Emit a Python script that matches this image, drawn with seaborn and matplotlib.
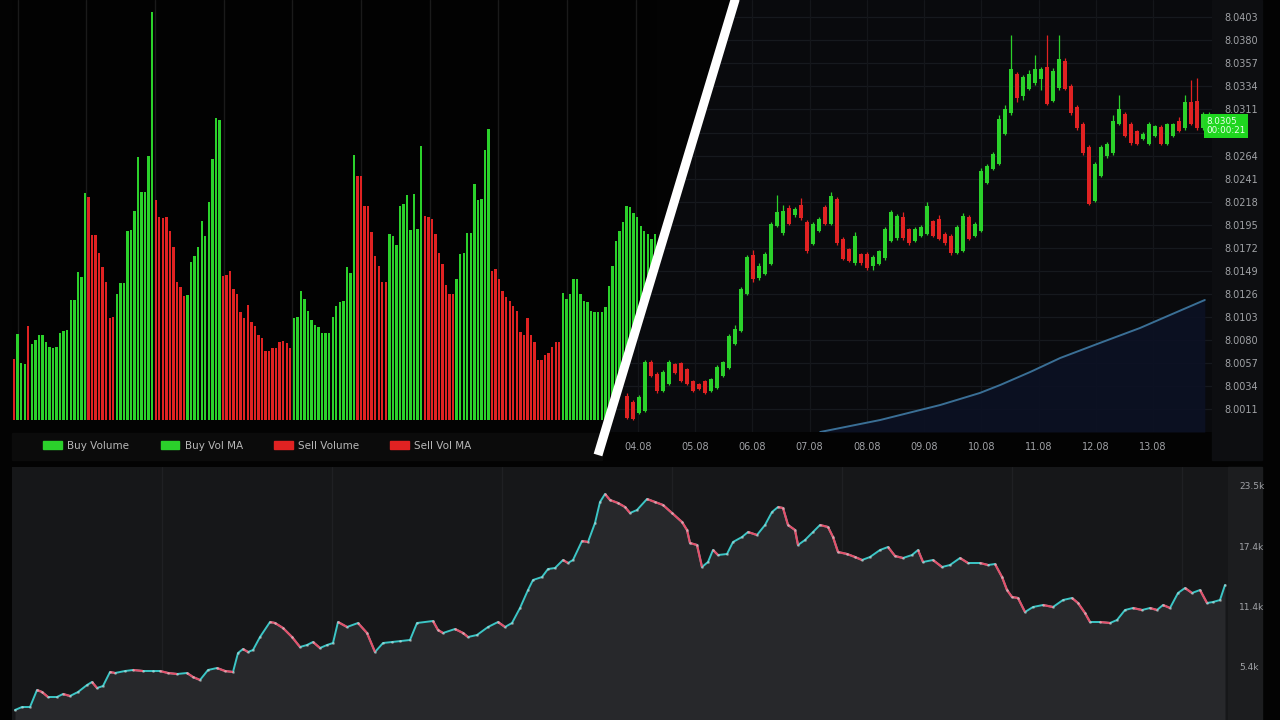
import numpy as np
import pandas as pd
import matplotlib
matplotlib.use("Agg")
import matplotlib.pyplot as plt
import seaborn as sns
from matplotlib.patches import Polygon, Rectangle, Patch
from matplotlib.lines import Line2D
from matplotlib.collections import LineCollection

# ---------------- DATA ----------------
# Volume bars (top-left): heights and direction
vol_heights = [61, 86, 57, 56, 94, 76, 80, 85, 85, 78, 73, 72, 73, 87, 89, 90, 119, 119, 147, 142, 226,
               222, 184, 184, 166, 152, 137, 102, 103,
               125, 136, 136, 188, 189, 208, 262, 227, 227, 263, 406,
               219, 202, 201, 202, 188, 172, 137, 132, 123,
               124, 157, 163, 172, 198, 183, 217, 260, 301, 299,
               143, 144, 148, 130, 125, 107, 102, 114, 98, 94, 85, 82, 69, 69, 72, 72, 78, 79, 77, 72,
               102, 103, 128, 120, 108, 100, 95, 93, 87, 87, 87, 103, 113, 117, 118, 152, 146, 264,
               243, 243, 213, 213, 187, 163, 153, 137, 137,
               185, 183, 174, 213, 215, 224, 189, 225, 190, 273,
               203, 202, 200, 185, 166, 155, 134, 125, 125,
               140, 165, 166, 186, 186, 235, 219, 220, 269, 290,
               148, 150, 140, 128, 122, 118, 113, 108, 88, 85, 102, 85, 78, 60, 60, 65, 67, 73, 78, 78,
               126, 120, 125, 140, 140, 125, 118, 117, 108, 107, 107, 107, 112, 133, 153, 178, 188, 197,
               213, 212, 206, 202, 193, 188, 185, 180, 185]
vol_dir = (["down"] + ["up"] * 3 + ["down"] + ["up"] * 16 +
           ["down"] * 8 + ["up"] * 11 + ["down"] * 9 + ["up"] * 10 +
           ["down"] * 20 + ["up"] * 18 + ["down"] * 9 + ["up"] * 10 +
           ["down"] * 9 + ["up"] * 10 + ["down"] * 20 + ["up"] * 27)
legend_labels = ["Buy Volume", "Buy Vol MA", "Sell Volume", "Sell Vol MA"]

# Candles (top-right), price in points
c_open = [23, 17, 8, 10, 57, 45, 30, 37, 55, 56,
          50, 38, 35, 38, 30, 33, 45, 53, 77, 90,
          127, 164, 143, 147, 157, 195, 188, 211, 206, 214,
          197, 177, 190, 212, 197, 220, 180, 170, 158, 165,
          165, 155, 157, 163, 180, 183, 202, 190, 180, 185,
          187, 198, 200, 185, 183, 168, 170, 202, 185, 190,
          238, 252, 257, 287, 308, 345, 325, 332, 338, 342,
          352, 320, 333, 358, 333, 312, 295, 272, 220, 245,
          265, 268, 297, 305, 295, 288, 282, 277, 285, 292,
          277, 285, 298, 293, 317, 318, 293, 295]
c_close = [3, 2, 22, 57, 45, 30, 47, 57, 48, 40,
           37, 30, 32, 28, 40, 52, 57, 83, 90, 130,
           162, 142, 153, 165, 195, 207, 208, 197, 210, 203,
           170, 195, 200, 197, 223, 178, 162, 160, 183, 158,
           153, 162, 168, 190, 207, 203, 183, 178, 190, 192,
           213, 185, 182, 178, 168, 192, 203, 182, 195, 248,
           253, 265, 300, 310, 350, 323, 342, 345, 350, 350,
           317, 348, 360, 332, 308, 293, 268, 217, 255, 272,
           275, 298, 310, 285, 278, 277, 285, 295, 293, 277,
           295, 295, 290, 317, 297, 293, 305, 305]
c_high = [27, 20, 25, 60, 60, 48, 50, 60, 57, 58,
          52, 40, 37, 40, 42, 55, 59, 86, 95, 133,
          165, 170, 157, 168, 198, 225, 215, 215, 213, 222,
          200, 198, 203, 215, 228, 223, 183, 172, 188, 167,
          168, 165, 170, 193, 210, 206, 208, 192, 193, 195,
          218, 200, 205, 188, 186, 195, 207, 205, 198, 252,
          256, 268, 305, 315, 385, 348, 345, 350, 365, 353,
          385, 352, 385, 362, 336, 315, 298, 275, 258, 275,
          278, 305, 325, 308, 298, 290, 288, 298, 295, 295,
          297, 297, 303, 325, 340, 342, 308, 308]
c_low = [1, 0, 6, 8, 43, 27, 28, 35, 46, 38,
         35, 28, 30, 26, 28, 31, 43, 51, 75, 88,
         125, 138, 140, 145, 155, 193, 185, 195, 203, 200,
         167, 175, 188, 195, 195, 175, 160, 158, 155, 155,
         150, 150, 155, 160, 178, 180, 180, 175, 178, 183,
         185, 183, 180, 175, 165, 166, 168, 180, 183, 188,
         236, 250, 255, 285, 305, 318, 320, 330, 335, 330,
         315, 318, 330, 330, 305, 290, 265, 215, 218, 243,
         262, 265, 295, 283, 275, 275, 280, 275, 283, 275,
         275, 283, 288, 290, 295, 290, 290, 292]
ind_x = [32.2, 42.2, 52.2, 58.8, 62.2, 67.2, 72.2, 78.8, 85.5, 90.5, 96.3]
ind_y = [-12, 0, 15, 27, 35, 48, 62, 77, 92, 105, 120]
time_labels = ["04.08", "05.08", "06.08", "07.08", "08.08", "09.08", "10.08", "11.08", "12.08", "13.08"]
price_ticks = [11, 34, 57, 80, 103, 126, 149, 172, 195, 218, 241, 264, 311, 334, 357, 380, 403]
price_tag_level = 294

# Bottom line chart
line_t = [3, 10, 18, 25, 30, 36, 45, 51, 58, 66,
          75, 80, 85, 91, 98, 103, 113, 121, 131, 141,
          148, 156, 165, 175, 181, 188, 196, 205, 213, 221,
          226, 231, 236, 241, 248, 258, 263, 271, 280, 288,
          295, 301, 308, 315, 321, 326, 335, 346, 355, 363,
          371, 380, 388, 398, 405, 421, 426, 431, 443, 451,
          456, 465, 476, 486, 493, 500, 508, 516, 521, 530,
          536, 543, 551, 556, 561, 570, 576, 583, 588, 593,
          598, 606, 613, 618, 625, 635, 643, 651, 660, 670,
          675, 678, 685, 690, 696, 701, 706, 715, 721, 730,
          736, 745, 753, 760, 766, 771, 776, 783, 786, 793,
          801, 808, 816, 821, 826, 835, 843, 850, 858, 868,
          876, 883, 891, 900, 906, 911, 921, 930, 938, 948,
          956, 968, 976, 983, 990, 995, 1000, 1006, 1013, 1021,
          1031, 1041, 1051, 1060, 1066, 1073, 1078, 1088, 1098, 1105,
          1113, 1121, 1130, 1138, 1145, 1151, 1158, 1166, 1173, 1180,
          1188, 1195, 1201, 1208, 1213]
line_v = [10, 13, 13, 30, 28, 23, 23, 26, 24, 28,
          35, 38, 32, 34, 48, 47, 49, 50, 49, 49,
          49, 47, 46, 47, 43, 40, 50, 52, 49, 48,
          67, 71, 68, 70, 83, 98, 97, 92, 83, 73,
          75, 78, 72, 75, 77, 98, 93, 97, 87, 68,
          77, 78, 79, 80, 97, 99, 90, 87, 91, 87,
          83, 85, 93, 98, 93, 97, 112, 130, 140, 143,
          151, 152, 160, 157, 160, 179, 178, 197, 218, 226,
          220, 217, 213, 207, 210, 221, 218, 215, 207, 198,
          190, 177, 175, 153, 158, 170, 165, 166, 178, 183,
          188, 185, 195, 208, 213, 212, 195, 190, 175, 180,
          188, 195, 193, 183, 168, 166, 163, 160, 163, 170,
          173, 164, 162, 165, 170, 158, 160, 153, 155, 162,
          157, 157, 155, 156, 143, 130, 123, 122, 108, 113,
          115, 113, 120, 122, 117, 107, 98, 98, 97, 100,
          110, 112, 110, 112, 110, 115, 112, 127, 132, 127,
          130, 117, 118, 120, 135]
bottom_ticks = [54, 114, 174, 235]

# ---------------- STYLE ----------------
sns.set_theme(style="dark", rc={"axes.facecolor": "#020202", "figure.facecolor": "#030303"})
plt.rcParams['font.family'] = ['DejaVu Sans']

GREEN = "#2bd12b"
RED = "#e02222"
CYAN = "#3cc6c6"
PINK = "#e4506a"
W, H = 1280, 720

fig = plt.figure(figsize=(12.8, 7.2), dpi=100, facecolor="#030303")


def rect(x0, y0, x1, y1):
    return [x0 / W, 1 - y1 / H, (x1 - x0) / W, (y1 - y0) / H]


def fp(x, y):
    return (x / W, 1 - y / H)


# background decorations
fig.add_artist(Rectangle(fp(12, 460), 590 / W, 27 / H, color="#0b0b0b", zorder=-1))
fig.add_artist(Rectangle(fp(1212, 460), 50 / W, 460 / H, color="#0d0e11", zorder=-1))
fig.add_artist(Rectangle(fp(1228, 720), 34 / W, 253 / H, color="#1c1d1f", zorder=-1))

left_poly = Polygon([fp(-10, -10), fp(738, -10), fp(598, 455), fp(-10, 455)], closed=True,
                    transform=fig.transFigure)
right_poly = Polygon([fp(738, -10), fp(1290, -10), fp(1290, 461), fp(596.5, 461)], closed=True,
                     transform=fig.transFigure)

# ---------------- LEFT: volume bars ----------------
ax1 = fig.add_axes(rect(12, 0, 657, 420))
n = len(vol_heights)
vdf = pd.DataFrame({"i": np.arange(n), "h": vol_heights, "d": vol_dir})
sns.barplot(data=vdf, x="i", y="h", hue="d", palette={"up": GREEN, "down": RED},
            dodge=False, width=0.68, legend=False, errorbar=None, saturation=1,
            linewidth=0, ax=ax1)
ax1.set_xlim(-0.6, n - 0.4)
ax1.set_ylim(0, 418)
ax1.set_facecolor("#020202")
ax1.set_xticks(np.arange(1, n, 19.4))
ax1.set_yticks([])
ax1.tick_params(labelbottom=False, length=0)
ax1.grid(axis="x", color="#1a1a1a", lw=1)
ax1.grid(axis="y", visible=False)
ax1.set_xlabel("")
ax1.set_ylabel("")
for s in ax1.spines.values():
    s.set_visible(False)
for p in ax1.patches:
    p.set_clip_path(left_poly)
for gl in ax1.get_xgridlines():
    gl.set_clip_path(left_poly)

fig.legend(handles=[Patch(color=GREEN), Patch(color=GREEN), Patch(color=RED), Patch(color=RED)],
           labels=legend_labels, loc="center left", bbox_to_anchor=(34 / W, 1 - 446 / H),
           ncol=4, frameon=False, fontsize=7.5, labelcolor="#b8b8b8", handlelength=1.8,
           handleheight=0.8, columnspacing=3.0, handletextpad=0.5)

# ---------------- RIGHT: candlesticks ----------------
ax2 = fig.add_axes(rect(596, 0, 1212, 432))
ax2.set_facecolor("#090a0d")
ax2.patch.set_clip_path(right_poly)
idx = np.arange(len(c_open))
o = np.array(c_open); c = np.array(c_close); hi = np.array(c_high); lo = np.array(c_low)
up = c >= o
cols = np.where(up, GREEN, RED)
for t in price_ticks + [287]:
    gl = ax2.axhline(t, color="#16191e", lw=0.9, zorder=0)
    gl.set_clip_path(right_poly)
xt = np.linspace(1.8, 87.7, 10)
for t in xt:
    gl = ax2.axvline(t, color="#14161a", lw=0.9, zorder=0)
    gl.set_clip_path(right_poly)
sns.lineplot(x=ind_x, y=ind_y, color="#3a6f96", lw=1.4, ax=ax2, zorder=2)
ax2.fill_between(ind_x, ind_y, -12, color="#0c1124", alpha=0.9, zorder=1, lw=0)
ax2.vlines(idx, lo, hi, colors=cols, lw=0.9, zorder=3)
ax2.bar(idx, np.abs(c - o) + 1.5, bottom=np.minimum(o, c) - 0.75, width=0.7, color=cols,
        linewidth=0, zorder=4)
ax2.set_xlim(-31 / 6, 585 / 6)
ax2.set_ylim(-12, 420)
ax2.yaxis.tick_right()
ax2.set_yticks(price_ticks)
ax2.set_yticklabels([f"{8 + t / 10000:.4f}" for t in price_ticks])
ax2.set_xticks(xt)
ax2.set_xticklabels(time_labels)
ax2.tick_params(axis="y", length=0, pad=9, labelsize=7, labelcolor="#a0a2a6")
ax2.tick_params(axis="x", length=0, pad=7, labelsize=7, labelcolor="#a0a2a6")
ax2.grid(False)
for s in ax2.spines.values():
    s.set_visible(False)
gl = ax2.axhline(price_tag_level, xmin=0.985, xmax=1.0, color=GREEN, lw=1, zorder=5)
ax2.annotate(f"{8 + c_close[-1] / 10000:.4f}\n00:00:21", xy=(1.0, price_tag_level),
             xycoords=("axes fraction", "data"), xytext=(-4, 0), textcoords="offset points",
             ha="left", va="center", fontsize=6.3, color="#eaffea", linespacing=1.0,
             bbox=dict(boxstyle="square,pad=0.3", fc="#1fd61f", ec="none"), zorder=10,
             annotation_clip=False)

# ---------------- BOTTOM: line chart ----------------
ax3 = fig.add_axes(rect(12, 467, 1228, 720))
ax3.set_facecolor("#161719")
tv = np.array(line_t); vv = np.array(line_v)
ax3.fill_between(tv, vv, 0, color="#27282b", lw=0, zorder=1)
sns.lineplot(x=tv, y=vv, color=CYAN, lw=1.4, ax=ax3, zorder=3)
segs = [[(tv[i], vv[i]), (tv[i + 1], vv[i + 1])] for i in range(len(tv) - 1) if vv[i + 1] < vv[i]]
ax3.add_collection(LineCollection(segs, colors=PINK, lw=1.6, zorder=4))
sns.scatterplot(x=tv, y=vv, s=3, color="#f2f2f2", alpha=0.45, edgecolor=None, ax=ax3, zorder=5)
ax3.set_xlim(0, 1216)
ax3.set_ylim(0, 253)
ax3.set_xticks(np.arange(150, 1216, 170))
ax3.grid(axis="x", color="#1f2023", lw=0.9)
ax3.grid(axis="y", visible=False)
ax3.yaxis.tick_right()
ax3.set_yticks(bottom_ticks)
ax3.set_yticklabels([f"{t / 10:.1f}k" for t in bottom_ticks])
ax3.tick_params(axis="y", length=0, pad=8, labelsize=6.5, labelcolor="#a0a2a6")
ax3.tick_params(axis="x", length=0, labelbottom=False)
for s in ax3.spines.values():
    s.set_visible(False)

# diagonal separator
fig.add_artist(Line2D([598 / W, 738 / W], [1 - 455 / H, 1 - (-10) / H], color="white", lw=6.5,
                      solid_capstyle="butt", zorder=20))

fig.savefig("out.png", dpi=100, facecolor=fig.get_facecolor())
